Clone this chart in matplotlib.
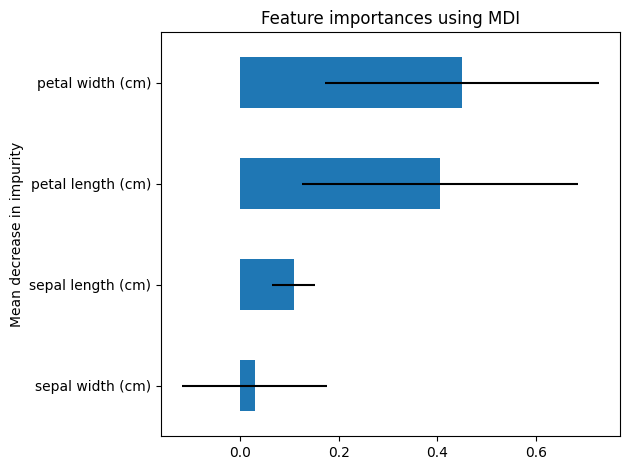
import matplotlib
matplotlib.use("Agg")
import matplotlib.pyplot as plt
import pandas as pd

features = ["sepal width (cm)", "sepal length (cm)", "petal length (cm)", "petal width (cm)"]
importances = [0.030, 0.109, 0.405, 0.450]
stds = [0.147, 0.043, 0.280, 0.277]

s = pd.Series(importances, index=features)
fig, ax = plt.subplots(figsize=(6.3, 4.7), dpi=100)
s.plot.barh(xerr=stds, ax=ax)
ax.set_title("Feature importances using MDI")
ax.set_ylabel("Mean decrease in impurity")
fig.subplots_adjust(left=161/630, right=620/630, top=1-32/470, bottom=1-436/470)
fig.savefig("out.png")
